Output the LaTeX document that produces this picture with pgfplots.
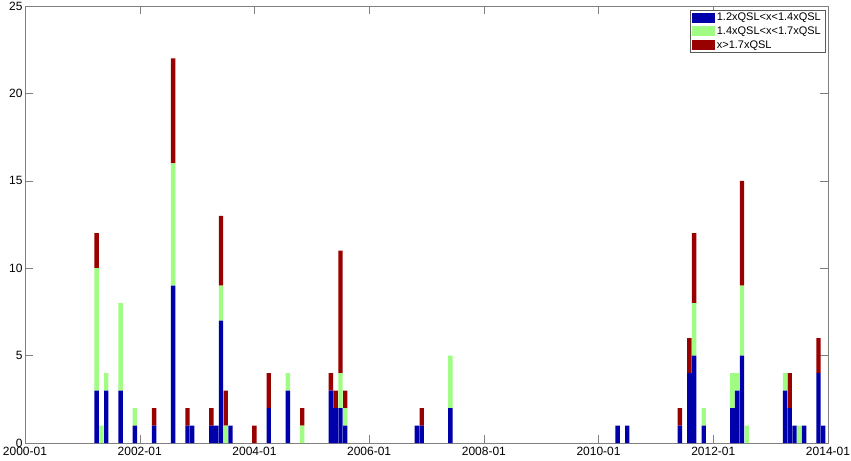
\documentclass[border=0pt]{standalone}
\usepackage{pgfplots}
\usepackage{pgfplotstable}
\pgfplotsset{compat=1.18}
\usepackage{fontspec}
\setmainfont{Liberation Sans}
\definecolor{cblue}{RGB}{0,0,170}
\definecolor{cgreen}{RGB}{160,252,130}
\definecolor{cred}{RGB}{153,0,0}
\pgfplotstableread{
m b g r
15 3 7 2
16 0 1 0
17 3 1 0
20 3 5 0
23 1 1 0
27 1 0 1
31 9 7 6
34 1 0 1
35 1 0 0
39 1 0 1
40 1 0 0
41 7 2 4
42 0 1 2
43 1 0 0
48 0 0 1
51 2 0 2
55 3 1 0
58 0 1 1
64 3 0 1
65 2 0 1
66 2 2 7
67 1 1 1
82 1 0 0
83 1 0 1
89 2 3 0
124 1 0 0
126 1 0 0
137 1 0 1
139 4 0 2
140 5 3 4
142 1 1 0
148 2 2 0
149 3 1 0
150 5 4 6
151 0 1 0
159 3 1 0
160 2 0 2
161 1 0 0
162 0 1 0
163 1 0 0
166 4 0 2
167 1 0 0
}\data
\begin{document}
\begin{tikzpicture}
\pgfplotsset{myleg/.style={legend image code/.code={\fill[##1] (0bp,-5bp) rectangle (22.5bp,5bp);}}}
\begin{axis}[
  name=ax,
  scale only axis,
  width=803bp, height=437bp,
  xmin=0, xmax=168, ymin=0, ymax=25,
  ybar stacked, bar width=0.92,
  xtick={0,24,48,72,96,120,144,168},
  xticklabels={2000-01,2002-01,2004-01,2006-01,2008-01,2010-01,2012-01,2014-01},
  ytick={0,5,10,15,20,25},
  /pgf/number format/assume math mode=true,
  tick label style={font=\fontsize{12bp}{14bp}\selectfont, black},
  tick align=inside,
  xtick pos=both, ytick pos=both,
  major tick length=8bp,
  axis line style={gray},
  every tick/.style={gray},
  xticklabel style={yshift=-1bp},
  yticklabel style={xshift=1bp},
  legend cell align=left,
  legend style={at={(1,1)}, anchor=north east, xshift=-3bp, yshift=-4bp,
    draw=gray!70!black, font=\fontsize{11bp}{13bp}\selectfont,
    inner xsep=2bp, inner ysep=1bp, row sep=0.5bp},
]
\addplot[fill=cblue, draw=none, myleg] table[x=m, y=b] {\data};
\addplot[fill=cgreen, draw=none, myleg] table[x=m, y=g] {\data};
\addplot[fill=cred, draw=none, myleg] table[x=m, y=r] {\data};
\legend{1.2xQSL<x<1.4xQSL, 1.4xQSL<x<1.7xQSL, x>1.7xQSL}
\end{axis}
\pgfresetboundingbox
\path[use as bounding box] (ax.south west) ++(-25bp,-18bp) rectangle ++(851bp,461bp);
\end{tikzpicture}
\end{document}
